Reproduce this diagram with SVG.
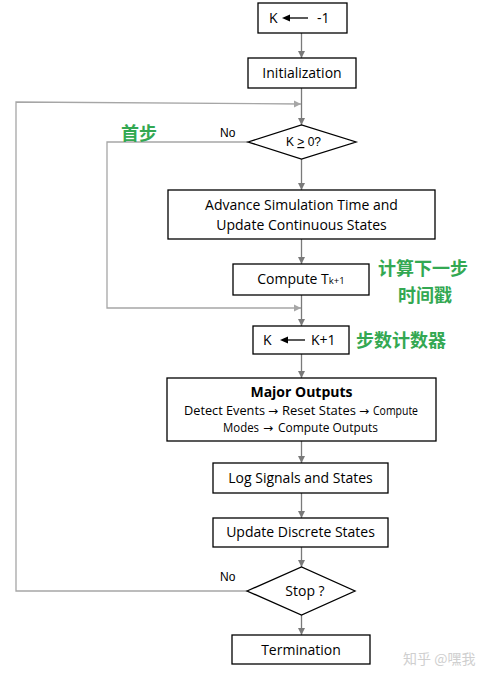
<svg xmlns="http://www.w3.org/2000/svg" width="492" height="676" viewBox="0 0 492 676">
<style>
.box{fill:#fff;stroke:#000;stroke-width:1.3}
.t{font-family:"Open Sans","Liberation Sans",sans-serif;font-size:14px;fill:#000}
.tm{text-anchor:middle}
.s{font-family:"Open Sans","Liberation Sans",sans-serif;font-size:12.5px;fill:#000}
.ar{font-family:"DejaVu Sans",sans-serif;font-size:12px;fill:#000}
.a{font-family:"Liberation Sans",Arial,sans-serif;font-size:12px;fill:#000}
.g{font-family:"Noto Sans CJK SC",sans-serif;font-size:18px;font-weight:bold;fill:#33a852}
.c{fill:none;stroke:#7a7a7a;stroke-width:1.3}
.l{fill:none;stroke:#a6a6a6;stroke-width:1.3}
</style>
<defs>
<marker id="ah" markerWidth="8" markerHeight="8" refX="7" refY="4" orient="auto" markerUnits="userSpaceOnUse">
<path d="M0,0.5 L7,4 L0,7.5 Z" fill="#7a7a7a"/>
</marker>
<marker id="ahl" markerWidth="8" markerHeight="8" refX="7" refY="4" orient="auto" markerUnits="userSpaceOnUse">
<path d="M0,0.5 L7,4 L0,7.5 Z" fill="#a6a6a6"/>
</marker>
</defs>
<rect width="492" height="676" fill="#fff"/>
<g id="connectors">
<line class="c" x1="301.5" y1="33" x2="301.5" y2="58" marker-end="url(#ah)"/>
<line class="c" x1="301.5" y1="88" x2="301.5" y2="125" marker-end="url(#ah)"/>
<polyline class="l" points="247,591 16,591 16,102 301,104" marker-end="url(#ahl)"/>
<line class="c" x1="301.5" y1="159" x2="301.5" y2="190" marker-end="url(#ah)"/>
<polyline class="l" points="248,142 107,142 107,308 301,308" marker-end="url(#ahl)"/>
<line class="c" x1="301.5" y1="239" x2="301.5" y2="264" marker-end="url(#ah)"/>
<line class="c" x1="301.5" y1="295" x2="301.5" y2="326" marker-end="url(#ah)"/>
<line class="c" x1="301.5" y1="354" x2="301.5" y2="378" marker-end="url(#ah)"/>
<line class="c" x1="301.5" y1="441" x2="301.5" y2="463" marker-end="url(#ah)"/>
<line class="c" x1="301.5" y1="493" x2="301.5" y2="518" marker-end="url(#ah)"/>
<line class="c" x1="301.5" y1="547" x2="301.5" y2="567" marker-end="url(#ah)"/>
<line class="c" x1="301.5" y1="615" x2="301.5" y2="635" marker-end="url(#ah)"/>
</g>
<g id="n_init_k">
<rect class="box" x="258" y="3" width="89" height="30"/>
<text class="t" x="269" y="23">K</text>
<line x1="308" y1="18" x2="288" y2="18" stroke="#000" stroke-width="1.3"/>
<path d="M282,18 L290,14.5 L290,21.5 Z" fill="#000"/>
<text class="t" x="317" y="23">-1</text>
</g>
<g id="n_initialization">
<rect class="box" x="248" y="58" width="108" height="30"/>
<text class="t tm" x="302" y="78">Initialization</text>
</g>
<g id="n_k_ge_0">
<polygon class="box" points="248,142 301.5,125 356,142 301.5,159"/>
<text class="a" x="286" y="146">K <tspan text-decoration="underline">&gt;</tspan> 0?</text>
<text class="a" x="220" y="137">No</text>
</g>
<text class="g" x="121" y="140">首步</text>
<g id="n_advance">
<rect class="box" x="168" y="190" width="267" height="49"/>
<text class="t tm" x="301.5" y="210">Advance Simulation Time and</text>
<text class="t tm" x="301.5" y="230">Update Continuous States</text>
</g>
<g id="n_compute_t">
<rect class="box" x="233" y="264" width="136" height="31"/>
<text class="t tm" x="301" y="284">Compute T<tspan font-size="9.5">k+1</tspan></text>
</g>
<text class="g" x="378" y="275">计算下一步</text>
<text class="g" x="398" y="302">时间戳</text>
<g id="n_k_inc">
<rect class="box" x="253" y="326" width="96" height="28"/>
<text class="t" x="263" y="345">K</text>
<line x1="305" y1="340" x2="286" y2="340" stroke="#000" stroke-width="1.3"/>
<path d="M280,340 L288,336.5 L288,343.5 Z" fill="#000"/>
<text class="t" x="311" y="345">K+1</text>
</g>
<text class="g" x="356" y="347">步数计数器</text>
<g id="n_major">
<rect class="box" x="167" y="378" width="269" height="63"/>
<text class="t tm" x="301.5" y="397" font-weight="bold" font-size="13.5">Major Outputs</text>
<text class="s" x="184" y="415" textLength="81" lengthAdjust="spacingAndGlyphs">Detect Events</text>
<text class="ar" x="268" y="415">→</text>
<text class="s" x="282" y="415" textLength="74" lengthAdjust="spacingAndGlyphs">Reset States</text>
<text class="ar" x="359" y="415">→</text>
<text class="s" x="373" y="415" textLength="45" lengthAdjust="spacingAndGlyphs">Compute</text>
<text class="s" x="223" y="432" textLength="36" lengthAdjust="spacingAndGlyphs">Modes</text>
<text class="ar" x="263" y="432">→</text>
<text class="s" x="278" y="432" textLength="100" lengthAdjust="spacingAndGlyphs">Compute Outputs</text>
</g>
<g id="n_log">
<rect class="box" x="213" y="463" width="175" height="30"/>
<text class="t tm" x="300.5" y="483">Log Signals and States</text>
</g>
<g id="n_update">
<rect class="box" x="213" y="518" width="175" height="29"/>
<text class="t tm" x="300.5" y="537">Update Discrete States</text>
</g>
<g id="n_stop">
<polygon class="box" points="247,591 301.5,567 355,591 301.5,615"/>
<text class="t tm" x="305" y="596" font-size="13">Stop ?</text>
<text class="a" x="220" y="581">No</text>
</g>
<g id="n_termination">
<rect class="box" x="232" y="635" width="138" height="29"/>
<text class="t tm" x="301" y="655">Termination</text>
</g>
<text x="403" y="664" font-family="Noto Sans CJK SC,sans-serif" font-size="14" fill="#cfcfcf">知乎 @嘿我</text>
</svg>
